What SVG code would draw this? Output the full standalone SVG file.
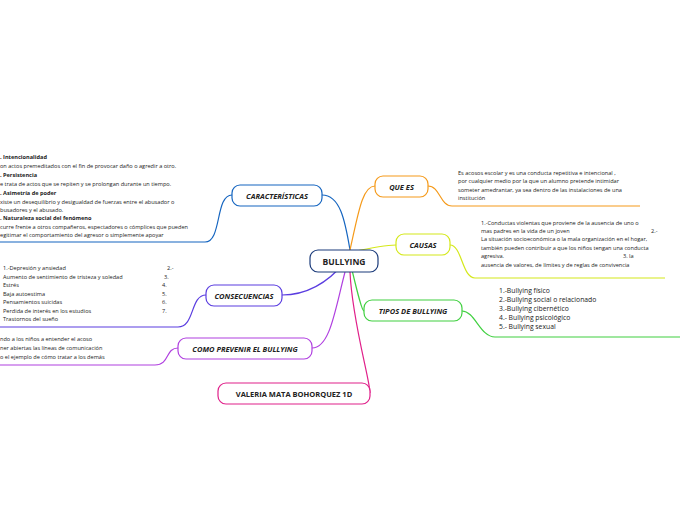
<svg xmlns="http://www.w3.org/2000/svg" width="696" height="520" viewBox="0 0 696 520">
<style>
text{font-family:"Open Sans","Noto Sans",sans-serif;fill:#222}
.s{font-size:5.6px}
.b{font-weight:bold}
.n{font-size:7.5px;font-style:italic;font-weight:bold;text-anchor:middle}
.c{fill:none;stroke-width:1.2}
</style>
<rect width="696" height="520" fill="#fff"/>
<g id="connectors">
<path class="c" stroke="#1565c0" d="M350 250 C345 220 340 195 322 195"/>
<path class="c" stroke="#1565c0" d="M232 195 C215 195 222 242 205 242 L0 242"/>
<path class="c" stroke="#5a3de0" d="M345 262 C330 280 310 295 282 295"/>
<path class="c" stroke="#5a3de0" d="M206 295 C190 295 195 327 178 327 L0 327"/>
<path class="c" stroke="#b040e0" d="M345 272 C335 310 330 348 312 348"/>
<path class="c" stroke="#b040e0" d="M178 348 C165 348 170 365 155 365 L0 365"/>
<path class="c" stroke="#e0208a" d="M350 272 C352 320 370 380 370 393"/>
<path class="c" stroke="#f59a1a" d="M350 250 C358 215 362 186 375 186"/>
<path class="c" stroke="#f59a1a" d="M428 186 C440 186 440 206 452 206 L640 206"/>
<path class="c" stroke="#d4e81a" d="M352 252 C370 248 385 245 396 245"/>
<path class="c" stroke="#d4e81a" d="M450 245 C462 245 462 278 475 278 L665 278"/>
<path class="c" stroke="#40d040" d="M352 270 C358 295 362 311 364 311"/>
<path class="c" stroke="#40d040" d="M462 311 C475 311 480 337 495 337 L680 337"/>
</g>
<g id="n-center"><rect x="310" y="250" width="68" height="22" rx="8" fill="#fff" stroke="#1a3a7a" stroke-width="1.2"/><text x="344" y="264.5" text-anchor="middle" font-size="8.5" class="b">BULLYING</text></g>
<g id="n-car"><rect x="232" y="185" width="90" height="21" rx="8" fill="#fff" stroke="#1565c0" stroke-width="1.2"/><text class="n" x="277" y="198.5">CARACTERÍSTICAS</text></g>
<g id="n-con"><rect x="206" y="285" width="76" height="21" rx="8" fill="#fff" stroke="#5a3de0" stroke-width="1.2"/><text class="n" x="244" y="298.5">CONSECUENCIAS</text></g>
<g id="n-prev"><rect x="178" y="338" width="134" height="21" rx="8" fill="#fff" stroke="#b040e0" stroke-width="1.2"/><text class="n" x="245" y="351.5">COMO PREVENIR EL BULLYING</text></g>
<g id="n-val"><rect x="218" y="383" width="152" height="21" rx="8" fill="#fff" stroke="#e0208a" stroke-width="1.2"/><text x="294" y="396.5" text-anchor="middle" font-size="7.5" class="b">VALERIA MATA BOHORQUEZ 1D</text></g>
<g id="n-que"><rect x="375" y="176" width="53" height="21" rx="8" fill="#fff" stroke="#f59a1a" stroke-width="1.2"/><text class="n" x="401.5" y="189.5">QUE ES</text></g>
<g id="n-cau"><rect x="396" y="234" width="54" height="21" rx="8" fill="#fff" stroke="#d4e81a" stroke-width="1.2"/><text class="n" x="423" y="247.5">CAUSAS</text></g>
<g id="n-tip"><rect x="364" y="300" width="98" height="21" rx="8" fill="#fff" stroke="#40d040" stroke-width="1.2"/><text class="n" x="413" y="313.5">TIPOS DE BULLYING</text></g>
<g id="t-car" class="s">
<text x="0" y="159" class="b s">. Intencionalidad</text>
<text x="0" y="168" class="s">on actos premeditados con el fin de provocar daño o agredir a otro.</text>
<text x="0" y="177" class="b s">. Persistencia</text>
<text x="0" y="186" class="s">e trata de actos que se repiten y se prolongan durante un tiempo.</text>
<text x="0" y="195" class="b s">. Asimetría de poder</text>
<text x="0" y="204" class="s">xiste un desequilibrio y desigualdad de fuerzas entre el abusador o</text>
<text x="0" y="212" class="s">busadores y el abusado.</text>
<text x="0" y="220" class="b s">. Naturaleza social del fenómeno</text>
<text x="0" y="229" class="s">curre frente a otros compañeros, espectadores o cómplices que pueden</text>
<text x="0" y="237" class="s">egitimar el comportamiento del agresor o simplemente apoyar</text>
</g>
<g id="t-con">
<text x="3" y="270" class="s">1.-Depresión y ansiedad</text><text x="167" y="270" class="s">2.-</text>
<text x="3" y="279" class="s">Aumento de sentimiento de tristeza y soledad</text><text x="164" y="279" class="s">3.</text>
<text x="3" y="287" class="s">Estrés</text><text x="162" y="287" class="s">4.</text>
<text x="3" y="296" class="s">Baja autoestima</text><text x="162" y="296" class="s">5.</text>
<text x="3" y="304" class="s">Pensamientos suicidas</text><text x="162" y="304" class="s">6.</text>
<text x="3" y="313" class="s">Perdida de interés en los estudios</text><text x="162" y="313" class="s">7.</text>
<text x="3" y="321" class="s">Trastornos del sueño</text>
</g>
<g id="t-prev">
<text x="0" y="341" class="s">ndo a los niños a entender el acoso</text>
<text x="0" y="350" class="s">ner abiertas las líneas de comunicación</text>
<text x="0" y="359" class="s">o el ejemplo de cómo tratar a los demás</text>
</g>
<g id="t-que">
<text x="458" y="175" class="s">Es acosos escolar y es una conducta repetitiva e intencional ,</text>
<text x="458" y="183" class="s">por cualquier medio por la que  un alumno pretende intimidar</text>
<text x="458" y="192" class="s">someter amedrantar, ya sea dentro de las instalaciones de una</text>
<text x="458" y="200" class="s">institución</text>
</g>
<g id="t-cau">
<text x="481" y="225" class="s">1.-Conductas violentas que proviene de la ausencia de uno o</text>
<text x="481" y="233" class="s">mas padres en la vida de un joven</text><text x="651" y="233" class="s">2.-</text>
<text x="481" y="241" class="s">La situación socioeconómica o la mala organización en el hogar,</text>
<text x="481" y="250" class="s">también pueden contribuir a que los niños tengan una conducta</text>
<text x="481" y="258" class="s">agresiva.</text><text x="623" y="258" class="s">3.  la</text>
<text x="481" y="267" class="s">ausencia de valores, de límites y de reglas de convivencia</text>
</g>
<g id="t-tip" font-size="6.8">
<text x="499" y="293" font-size="6.8">1.-Bullying físico</text>
<text x="499" y="302" font-size="6.8">2.-Bullying social o relacionado</text>
<text x="499" y="311" font-size="6.8">3.-Bullying cibernético</text>
<text x="499" y="320" font-size="6.8">4.- Bullying psicológico</text>
<text x="499" y="329" font-size="6.8">5.- Bullying sexual</text>
</g>
</svg>
